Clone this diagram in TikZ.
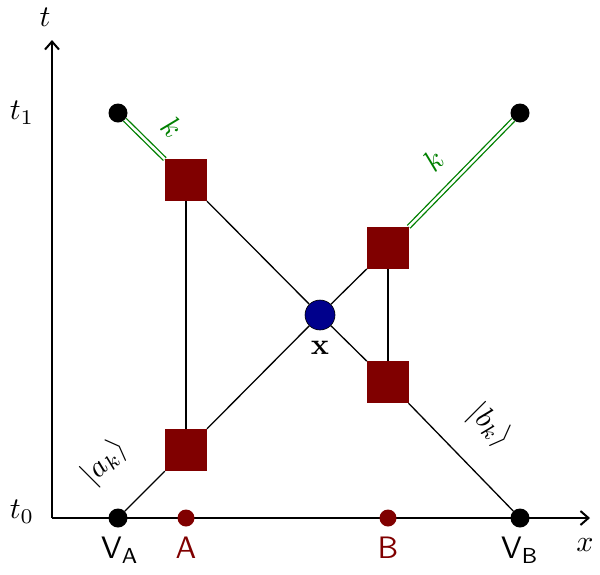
\documentclass[tikz,border=0pt]{standalone}
\usepackage{amsmath}
\usetikzlibrary{arrows.meta}
\definecolor{dred}{RGB}{128,0,0}
\definecolor{dblue}{RGB}{0,0,140}
\definecolor{dgreen}{RGB}{0,128,0}
\tikzset{
  sq/.style={rectangle,fill=dred,minimum size=42pt,inner sep=0pt},
  bdot/.style={circle,fill=black,minimum size=19pt,inner sep=0pt},
  rdot/.style={circle,fill=dred,minimum size=17pt,inner sep=0pt},
  xdot/.style={circle,fill=dblue,draw=black,line width=0.6pt,minimum size=30pt,inner sep=0pt},
  ln/.style={line width=1.3pt},
  dbl/.style={draw=dgreen,double=white,double distance=2.5pt,line width=1.3pt},
  big/.style={scale=3.0,inner sep=0.5pt},
  sbig/.style={scale=3.1,inner sep=0.5pt,font=\sffamily},
}
\begin{document}
\begin{tikzpicture}[x=1pt,y=-1pt]
\useasboundingbox (0,0) rectangle (600,574);
\coordinate (O) at (52,518);
\coordinate (xe) at (590,518);
\coordinate (ye) at (52,40);
\draw[line width=2.2pt,-{Straight Barb[length=8pt,width=14pt,line width=2pt]}] (O) -- (xe);
\draw[line width=2.2pt,-{Straight Barb[length=8pt,width=14pt,line width=2pt]}] (O) -- (ye);
\node[big] (tl) at (45,17) {$t$};
\node[big] (xl) at (585,545) {$x$};
\node[big] (t1) at (22,113) {$t_1$};
\node[big] (t0) at (22,512) {$t_0$};
\node[bdot] (tl1) at (118,113) {};
\node[bdot] (tr1) at (520,113) {};
\node[sq] (s1) at (186,180) {};
\node[sq] (s2) at (186,450) {};
\node[sq] (s3) at (388,248) {};
\node[sq] (s4) at (388,382) {};
\draw[ln] (s1) -- (s2);
\draw[ln] (s3) -- (s4);
\draw[dbl] (tl1) -- (s1);
\draw[dbl] (s3) -- (tr1);
\node[rdot] (ra) at (186,518) {};
\node[rdot] (rb) at (388,518) {};
\node[bdot] (va) at (118,518) {};
\node[bdot] (vb) at (520,518) {};
\node[xdot] (X) at (320,315) {};
\draw[ln] (va) -- (s2) -- (X) -- (s3);
\draw[ln] (s1) -- (X) -- (s4) -- (vb);
\node[big] (xlab) at (320,348) {$\mathbf{x}$};
\node[big,text=dgreen,rotate=-45] (k1) at (172,127) {$k$};
\node[big,text=dgreen,rotate=45] (k2) at (433,160) {$k$};
\node[big,rotate=45] (ak) at (105,462) {$|a_k\rangle$};
\node[big,rotate=-45] (bk) at (490,426) {$|b_k\rangle$};
\node[sbig] (VA) at (120,550) {V$_{\text{A}}$};
\node[sbig,text=dred] (A) at (186,548) {A};
\node[sbig,text=dred] (B) at (388,548) {B};
\node[sbig] (VB) at (520,550) {V$_{\text{B}}$};
\end{tikzpicture}
\end{document}
